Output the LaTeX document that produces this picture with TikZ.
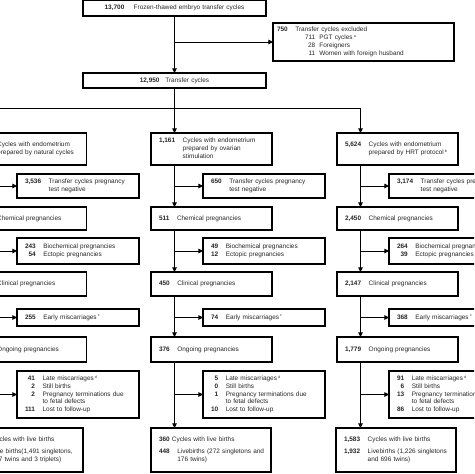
\documentclass[tikz,border=0pt]{standalone}
\usepackage{fontspec}
\setmainfont{Liberation Sans}
\usepackage{array}
\usetikzlibrary{arrows.meta}

\newcommand{\fs}{\fontsize{5.5}{6.6}\selectfont}
\newcommand{\nb}[1]{\begin{tabular}{@{}>{\bfseries}r@{\hspace{6.5pt}}l@{}}#1\end{tabular}}
\newcommand{\fn}[1]{\,\textsuperscript{\scalebox{0.8}{#1}}}

\begin{document}
\begin{tikzpicture}[x=0.03cm, y=-0.03cm,
    box/.style={draw, line width=0.9pt, anchor=north west, outer sep=0pt, text=black!85,
                inner xsep=0.24cm, inner ysep=0pt, align=left, font=\fs},
    mainbox/.style={box, text width=3.15cm},
    sidebox/.style={box, text width=3.18cm},
    endbox/.style={box, text width=3.12cm},
    arr/.style={-{Triangle[length=4pt,width=4pt]}, line width=0.8pt},
    ln/.style={line width=0.8pt}
]
\useasboundingbox (0,0) rectangle (474,474);
\clip (0,0) rectangle (474,474);

% top of the chart
\node[box, text width=5.01cm, align=center, minimum height=0.465cm] (total) at (83,0.5)
    {\textbf{13,700}\hspace{8pt}Frozen-thawed embryo transfer cycles};
\node[box, inner xsep=0.12cm, text width=5.19cm, minimum height=1.14cm] (excl) at (273,23)
    {\nb{750 & Transfer cycles excluded\\
         & \hspace{7pt}\makebox[10pt][r]{711}\hspace{3.5pt}PGT cycles\fn{a}\\
         & \hspace{7pt}\makebox[10pt][r]{28}\hspace{3.5pt}Foreigners\\
         & \hspace{7pt}\makebox[10pt][r]{11}\hspace{3.5pt}Women with foreign husband}};
\node[box, text width=5.01cm, align=center, minimum height=0.45cm] (cycles) at (83,73)
    {\textbf{12,950}\hspace{5pt}Transfer cycles};

% natural cycles
\node[mainbox, minimum height=0.96cm] (a1) at (-34.5,133) {\nb{6,165 & Cycles with endometrium\\ & prepared by natural cycles}};
\node[sidebox, minimum height=0.72cm] (as1) at (17,174) {\nb{3,536 & Transfer cycles pregnancy\\ & test negative}};
\node[mainbox, minimum height=0.69cm] (a2) at (-34.5,207) {\nb{2,629 & Chemical pregnancies}};
\node[sidebox, minimum height=0.78cm] (as2) at (17,238) {\nb{243 & Biochemical pregnancies\\ 54 & Ectopic pregnancies}};
\node[mainbox, minimum height=0.72cm] (a3) at (-34.5,272) {\nb{2,332 & Clinical pregnancies}};
\node[sidebox, minimum height=0.51cm] (as3) at (17,309) {\nb{255 & Early miscarriages\fn{c}}};
\node[mainbox, minimum height=0.75cm] (a4) at (-34.5,337) {\nb{2,077 & Ongoing pregnancies}};
\node[sidebox, minimum height=1.41cm] (as4) at (17,371) {\nb{41 & Late miscarriages\fn{d}\\ 2 & Still births\\
    2 & Pregnancy terminations due\\ & to fetal defects\\ 111 & Lost to follow-up}};
\node[endbox, text width=3.21cm, minimum height=1.32cm] (a5) at (-40,428) {\nb{1,921 & Cycles with live births\\[4pt]
    2,354 & Live births(1,491 singletons,\\ & 427 twins and 3 triplets)}};

% ovarian stimulation
\node[mainbox, minimum height=0.96cm] (b1) at (151,133) {\nb{1,161 & Cycles with endometrium\\ & prepared by ovarian\\ & stimulation}};
\node[sidebox, minimum height=0.72cm] (bs1) at (203,174) {\nb{650 & Transfer cycles pregnancy\\ & test negative}};
\node[mainbox, minimum height=0.69cm] (b2) at (151,207) {\nb{511 & Chemical pregnancies}};
\node[sidebox, minimum height=0.78cm] (bs2) at (203,238) {\nb{49 & Biochemical pregnancies\\ 12 & Ectopic pregnancies}};
\node[mainbox, minimum height=0.72cm] (b3) at (151,272) {\nb{450 & Clinical pregnancies}};
\node[sidebox, minimum height=0.51cm] (bs3) at (203,309) {\nb{74 & Early miscarriages\fn{c}}};
\node[mainbox, minimum height=0.75cm] (b4) at (151,337) {\nb{376 & Ongoing pregnancies}};
\node[sidebox, minimum height=1.41cm] (bs4) at (203,371) {\nb{5 & Late miscarriages\fn{d}\\ 0 & Still births\\
    1 & Pregnancy terminations due\\ & to fetal defects\\ 10 & Lost to follow-up}};
\node[endbox, minimum height=1.32cm] (b5) at (151,428) {\nb{\multicolumn{2}{@{}l@{}}{\textbf{360} Cycles with live births}\\[4pt]
    448 & Livebirths (272 singletons and\\ & 176 twins)}};

% HRT protocol
\node[mainbox, minimum height=0.96cm] (c1) at (337,133) {\nb{5,624 & Cycles with endometrium\\ & prepared by HRT protocol\fn{b}}};
\node[sidebox, minimum height=0.72cm] (cs1) at (389,174) {\nb{3,174 & Transfer cycles pregnancy\\ & test negative}};
\node[mainbox, minimum height=0.69cm] (c2) at (337,207) {\nb{2,450 & Chemical pregnancies}};
\node[sidebox, minimum height=0.78cm] (cs2) at (389,238) {\nb{264 & Biochemical pregnancies\\ 39 & Ectopic pregnancies}};
\node[mainbox, minimum height=0.72cm] (c3) at (337,272) {\nb{2,147 & Clinical pregnancies}};
\node[sidebox, minimum height=0.51cm] (cs3) at (389,309) {\nb{368 & Early miscarriages\fn{c}}};
\node[mainbox, minimum height=0.75cm] (c4) at (337,337) {\nb{1,779 & Ongoing pregnancies}};
\node[sidebox, minimum height=1.41cm] (cs4) at (389,371) {\nb{91 & Late miscarriages\fn{d}\\ 6 & Still births\\
    13 & Pregnancy terminations due\\ & to fetal defects\\ 86 & Lost to follow-up}};
\node[endbox, minimum height=1.32cm] (c5) at (336,428) {\nb{1,583 & Cycles with live births\\[4pt]
    1,932 & Livebirths (1,226 singletons\\ & and 696 twins)}};

% connectors
\coordinate (la) at (-11,0);
\coordinate (lb) at (174.5,0);
\coordinate (lc) at (360.5,0);
\coordinate (split) at (174.5,108);

\draw[arr] (total) -- (cycles);
\draw[arr] (total.south |- excl.west) -- (excl.west);
\draw[ln] (cycles.south) -- (split);
\draw[ln] (la |- split) -- (lc |- split);
\foreach \col in {a,b,c} {
    \draw[arr] (l\col |- split) -- (l\col |- \col1.north);
    \draw[arr] (\col1.south -| l\col) -- (\col2.north -| l\col);
    \draw[arr] (\col2.south -| l\col) -- (\col3.north -| l\col);
    \draw[arr] (\col3.south -| l\col) -- (\col4.north -| l\col);
    \draw[arr] (\col4.south -| l\col) -- (\col5.north -| l\col);
    \draw[arr] (l\col |- \col s1.west) -- (\col s1.west);
    \draw[arr] (l\col |- \col s2.west) -- (\col s2.west);
    \draw[arr] (l\col |- \col s3.west) -- (\col s3.west);
    \draw[arr] (l\col |- \col s4.west) -- (\col s4.west);
}
\end{tikzpicture}
\end{document}
